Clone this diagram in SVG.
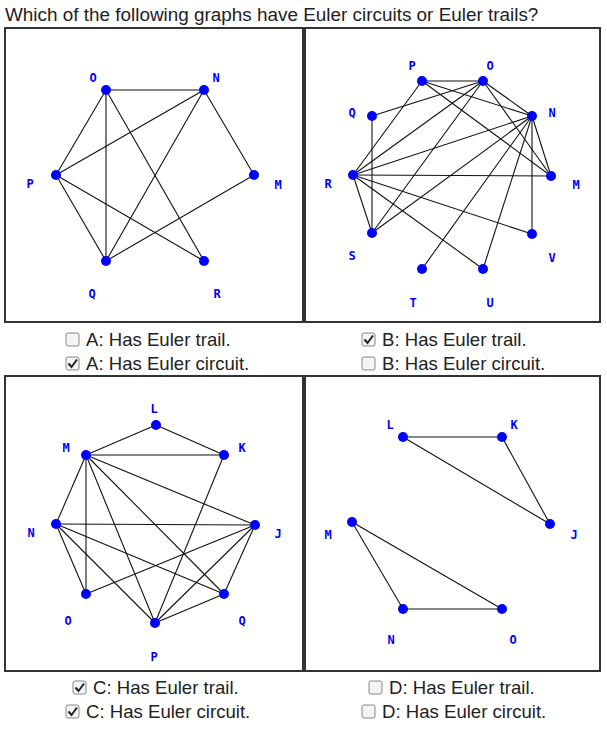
<svg xmlns="http://www.w3.org/2000/svg" width="607" height="736" viewBox="0 0 607 736">
<style>
.fr{fill:#fff;stroke:#333;stroke-width:2}
.e line{stroke:#111;stroke-width:1.1}
.n{fill:#0000ff}
.lb{font-family:"DejaVu Sans Mono",monospace;font-weight:bold;font-size:12px;fill:#0000ff;text-anchor:middle}
.t{font-family:"Liberation Sans",Arial,sans-serif;font-size:18.6px;fill:#222}
.cb{fill:#f4f4f4;stroke:#888;stroke-width:1}
.ck{fill:none;stroke:#222;stroke-width:2}
</style>
<rect width="607" height="736" fill="#fff"/>
<text class="t" x="5" y="21" style="font-size:18.9px">Which of the following graphs have Euler circuits or Euler trails?</text>
<rect class="fr" x="5" y="28" width="298" height="294"/>
<rect class="fr" x="305" y="28" width="295" height="294"/>
<rect class="fr" x="5" y="376" width="298" height="295"/>
<rect class="fr" x="305" y="376" width="295" height="295"/>

<g id="connectors" class="e">
<line x1="106" y1="90" x2="204" y2="90"/><line x1="106" y1="90" x2="56" y2="175"/><line x1="106" y1="90" x2="106" y2="261"/><line x1="106" y1="90" x2="204" y2="261"/><line x1="204" y1="90" x2="56" y2="175"/><line x1="204" y1="90" x2="106" y2="261"/><line x1="204" y1="90" x2="254" y2="175"/><line x1="56" y1="175" x2="106" y2="261"/><line x1="56" y1="175" x2="204" y2="261"/><line x1="106" y1="261" x2="254" y2="175"/>

<line x1="422" y1="81" x2="483" y2="81"/><line x1="422" y1="81" x2="532" y2="116"/><line x1="422" y1="81" x2="551" y2="176"/><line x1="422" y1="81" x2="353" y2="175"/>
<line x1="483" y1="81" x2="372" y2="116"/><line x1="483" y1="81" x2="532" y2="116"/><line x1="483" y1="81" x2="551" y2="176"/><line x1="483" y1="81" x2="353" y2="175"/><line x1="483" y1="81" x2="372" y2="233"/>
<line x1="372" y1="116" x2="372" y2="233"/>
<line x1="532" y1="116" x2="551" y2="176"/><line x1="532" y1="116" x2="532" y2="234"/><line x1="532" y1="116" x2="422" y2="269"/><line x1="532" y1="116" x2="483" y2="269"/><line x1="532" y1="116" x2="353" y2="175"/><line x1="532" y1="116" x2="372" y2="233"/>
<line x1="353" y1="175" x2="551" y2="176"/><line x1="353" y1="175" x2="372" y2="233"/><line x1="353" y1="175" x2="532" y2="234"/><line x1="353" y1="175" x2="483" y2="269"/>

<line x1="156" y1="425" x2="86" y2="455"/><line x1="156" y1="425" x2="224" y2="455"/><line x1="86" y1="455" x2="224" y2="455"/><line x1="86" y1="455" x2="56" y2="524"/><line x1="86" y1="455" x2="86" y2="594"/><line x1="86" y1="455" x2="155" y2="623"/><line x1="86" y1="455" x2="224" y2="594"/><line x1="86" y1="455" x2="255" y2="525"/>
<line x1="56" y1="524" x2="255" y2="525"/><line x1="56" y1="524" x2="86" y2="594"/><line x1="56" y1="524" x2="155" y2="623"/><line x1="56" y1="524" x2="224" y2="594"/>
<line x1="86" y1="594" x2="255" y2="525"/><line x1="224" y1="455" x2="155" y2="623"/><line x1="255" y1="525" x2="155" y2="623"/><line x1="255" y1="525" x2="224" y2="594"/><line x1="224" y1="594" x2="155" y2="623"/>

<line x1="403" y1="437" x2="502" y2="437"/><line x1="403" y1="437" x2="550" y2="524"/><line x1="502" y1="437" x2="550" y2="524"/><line x1="352" y1="522" x2="502" y2="609"/><line x1="352" y1="522" x2="403" y2="609"/><line x1="403" y1="609" x2="502" y2="609"/>
</g>

<g id="A-O"><circle class="n" cx="106" cy="90" r="5"/><text class="lb" x="93" y="82">O</text></g>
<g id="A-N"><circle class="n" cx="204" cy="90" r="5"/><text class="lb" x="216" y="82">N</text></g>
<g id="A-P"><circle class="n" cx="56" cy="175" r="5"/><text class="lb" x="30" y="188">P</text></g>
<g id="A-M"><circle class="n" cx="254" cy="175" r="5"/><text class="lb" x="278" y="189">M</text></g>
<g id="A-Q"><circle class="n" cx="106" cy="261" r="5"/><text class="lb" x="92" y="298">Q</text></g>
<g id="A-R"><circle class="n" cx="204" cy="261" r="5"/><text class="lb" x="217" y="298">R</text></g>

<g id="B-P"><circle class="n" cx="422" cy="81" r="5"/><text class="lb" x="412" y="70">P</text></g>
<g id="B-O"><circle class="n" cx="483" cy="81" r="5"/><text class="lb" x="490" y="70">O</text></g>
<g id="B-Q"><circle class="n" cx="372" cy="116" r="5"/><text class="lb" x="352" y="117">Q</text></g>
<g id="B-N"><circle class="n" cx="532" cy="116" r="5"/><text class="lb" x="552" y="117">N</text></g>
<g id="B-R"><circle class="n" cx="353" cy="175" r="5"/><text class="lb" x="328" y="188">R</text></g>
<g id="B-M"><circle class="n" cx="551" cy="176" r="5"/><text class="lb" x="576" y="189">M</text></g>
<g id="B-S"><circle class="n" cx="372" cy="233" r="5"/><text class="lb" x="352" y="260">S</text></g>
<g id="B-V"><circle class="n" cx="532" cy="234" r="5"/><text class="lb" x="552" y="262">V</text></g>
<g id="B-T"><circle class="n" cx="422" cy="269" r="5"/><text class="lb" x="413" y="307">T</text></g>
<g id="B-U"><circle class="n" cx="483" cy="269" r="5"/><text class="lb" x="490" y="307">U</text></g>

<g id="C-L"><circle class="n" cx="156" cy="425" r="5"/><text class="lb" x="154" y="413">L</text></g>
<g id="C-M"><circle class="n" cx="86" cy="455" r="5"/><text class="lb" x="66" y="452">M</text></g>
<g id="C-K"><circle class="n" cx="224" cy="455" r="5"/><text class="lb" x="242" y="452">K</text></g>
<g id="C-N"><circle class="n" cx="56" cy="524" r="5"/><text class="lb" x="31" y="537">N</text></g>
<g id="C-J"><circle class="n" cx="255" cy="525" r="5"/><text class="lb" x="278" y="538">J</text></g>
<g id="C-O"><circle class="n" cx="86" cy="594" r="5"/><text class="lb" x="68" y="625">O</text></g>
<g id="C-Q"><circle class="n" cx="224" cy="594" r="5"/><text class="lb" x="242" y="625">Q</text></g>
<g id="C-P"><circle class="n" cx="155" cy="623" r="5"/><text class="lb" x="154" y="661">P</text></g>

<g id="D-L"><circle class="n" cx="403" cy="437" r="5"/><text class="lb" x="390" y="429">L</text></g>
<g id="D-K"><circle class="n" cx="502" cy="437" r="5"/><text class="lb" x="514" y="429">K</text></g>
<g id="D-J"><circle class="n" cx="550" cy="524" r="5"/><text class="lb" x="574" y="539">J</text></g>
<g id="D-M"><circle class="n" cx="352" cy="522" r="5"/><text class="lb" x="328" y="539">M</text></g>
<g id="D-N"><circle class="n" cx="403" cy="609" r="5"/><text class="lb" x="391" y="644">N</text></g>
<g id="D-O"><circle class="n" cx="502" cy="609" r="5"/><text class="lb" x="513" y="644">O</text></g>

<g id="answers">
<rect class="cb" x="66" y="333" width="13" height="13" rx="2"/><text class="t" x="86" y="346">A: Has Euler trail.</text>
<rect class="cb" x="66" y="357" width="13" height="13" rx="2"/><path class="ck" d="M68.5 363.5 l3 3.5 l5.5 -7.5"/><text class="t" x="86" y="370">A: Has Euler circuit.</text>
<rect class="cb" x="362" y="333" width="13" height="13" rx="2"/><path class="ck" d="M364.5 339.5 l3 3.5 l5.5 -7.5"/><text class="t" x="382" y="346">B: Has Euler trail.</text>
<rect class="cb" x="362" y="357" width="13" height="13" rx="2"/><text class="t" x="382" y="370">B: Has Euler circuit.</text>
<rect class="cb" x="73" y="681" width="13" height="13" rx="2"/><path class="ck" d="M75.5 687.5 l3 3.5 l5.5 -7.5"/><text class="t" x="93" y="694">C: Has Euler trail.</text>
<rect class="cb" x="66" y="705" width="13" height="13" rx="2"/><path class="ck" d="M68.5 711.5 l3 3.5 l5.5 -7.5"/><text class="t" x="86" y="718">C: Has Euler circuit.</text>
<rect class="cb" x="369" y="681" width="13" height="13" rx="2"/><text class="t" x="389" y="694">D: Has Euler trail.</text>
<rect class="cb" x="362" y="705" width="13" height="13" rx="2"/><text class="t" x="382" y="718">D: Has Euler circuit.</text>
</g>
</svg>
